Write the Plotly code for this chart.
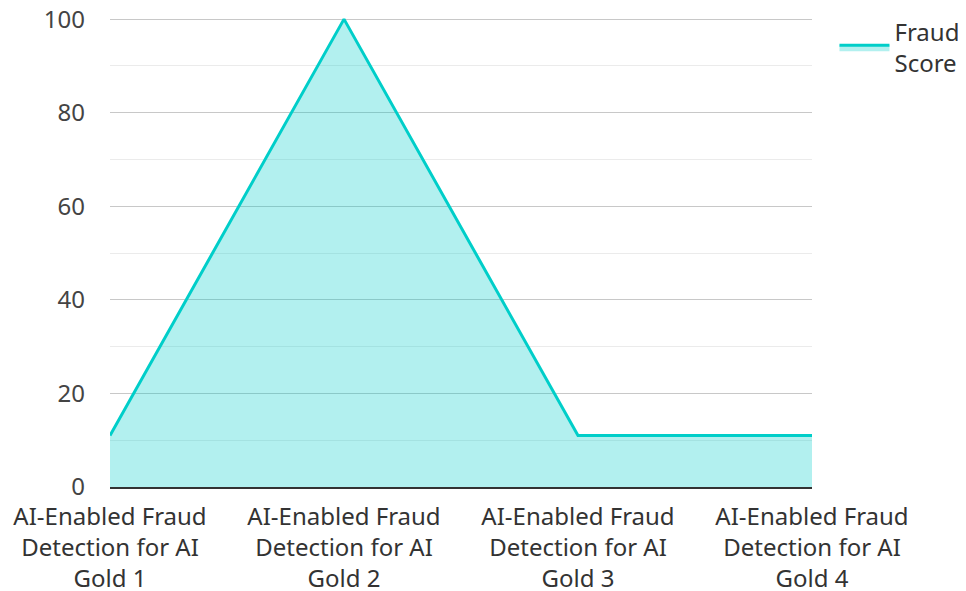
import plotly.graph_objects as go

categories = ["AI-Enabled Fraud<br>Detection for AI<br>Gold 1",
              "AI-Enabled Fraud<br>Detection for AI<br>Gold 2",
              "AI-Enabled Fraud<br>Detection for AI<br>Gold 3",
              "AI-Enabled Fraud<br>Detection for AI<br>Gold 4"]
fraud_score = [11, 100, 11, 11]
y_ticks = [0, 20, 40, 60, 80, 100]

fig = go.Figure()
fig.add_trace(go.Scatter(
    x=categories, y=fraud_score, mode="lines", name="Fraud<br>Score",
    fill="tozeroy", fillcolor="rgba(0,206,201,0.3)",
    line=dict(color="#00cec9", width=3),
))

fig.update_layout(
    width=966, height=591,
    margin=dict(l=102, r=162, t=9, b=112, autoexpand=False),
    paper_bgcolor="white", plot_bgcolor="white",
    font=dict(family="Noto Sans, Open Sans, sans-serif", size=24, color="#333333"),
    showlegend=True,
    legend=dict(x=1.032, y=1.016, xanchor="left", yanchor="top",
                font=dict(size=24, color="#333333"), itemwidth=50,
                bgcolor="rgba(0,0,0,0)"),
    xaxis=dict(range=[0, 3], showgrid=False, showline=True, linecolor="#333333",
               linewidth=2, ticks="", automargin=False, ticklabelstandoff=7,
               ticklabeloverflow="allow",
               tickfont=dict(size=24, color="#333333")),
    yaxis=dict(range=[0, 100.45], tickvals=y_ticks, showgrid=True, gridcolor="#c8c8c8",
               gridwidth=1, zeroline=False, showline=False, ticks="",
               ticklabelstandoff=24, automargin=False, ticklabeloverflow="allow",
               minor=dict(dtick=10, showgrid=True, gridcolor="#ebebeb", gridwidth=1),
               tickfont=dict(size=24, color="#444444")),
)

fig.write_html("out.html")
